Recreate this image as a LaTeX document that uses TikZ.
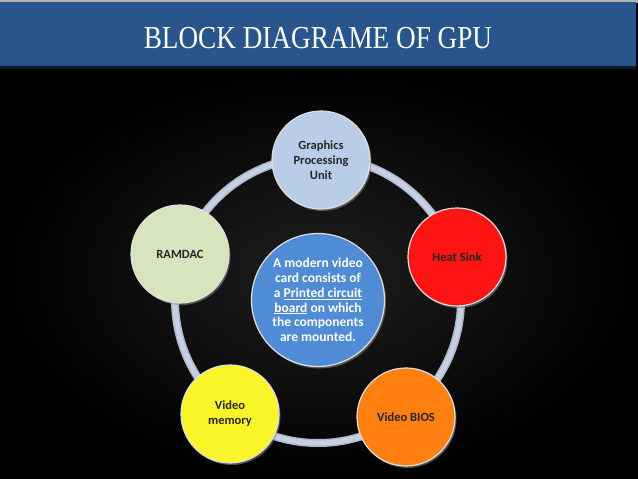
\documentclass[tikz,border=0pt]{standalone}
\usepackage{fontspec}
\setmainfont{Carlito}
\newfontfamily\titlefont[FakeStretch=0.85]{Liberation Serif}
\usetikzlibrary{shadows}
\definecolor{bandblue}{RGB}{40,86,140}
\definecolor{ringcol}{RGB}{196,208,228}
\definecolor{gpucol}{RGB}{185,205,232}
\definecolor{corecol}{RGB}{80,140,214}
\definecolor{ramcol}{RGB}{215,228,189}
\definecolor{heatcol}{RGB}{255,20,20}
\definecolor{memcol}{RGB}{250,245,40}
\definecolor{bioscol}{RGB}{255,128,16}

\begin{document}
\begin{tikzpicture}[x=1pt, y=-1pt,
  part/.style={circle, minimum size=98pt, inner sep=0pt, draw=white!75!gray,
    line width=1.2pt, align=center, text=black!85,
    font=\bfseries\fontsize{12.5}{15}\selectfont,
    drop shadow={opacity=0.6, shadow xshift=1.5pt, shadow yshift=-2pt}},
  core/.style={part, minimum size=133pt, text=white,
    font=\bfseries\fontsize{13.5}{14.7}\selectfont}]
\useasboundingbox (0,0) rectangle (638,479);
% background and title
\fill[black] (0,0) rectangle (638,479);
\shade[inner color=black!88!white, outer color=black] (0,68) rectangle (638,479);
\fill[gray!60] (0,0) rectangle (638,3);
\fill[bandblue] (0,2) rectangle (636,67);
\fill[black!70!bandblue] (0,66) rectangle (636,69);
\node[text=white, font=\titlefont\fontsize{32}{32}\selectfont] (title) at (318,38) {BLOCK DIAGRAME OF GPU};
% ring
\coordinate (mid) at (318,300);
\draw[ringcol!70!gray, line width=8pt] (mid) circle (143);
\draw[ringcol, line width=5pt] (mid) circle (143);
% parts
\node[core, fill=corecol] (board) at (mid) {A modern video\\card consists of\\a \underline{Printed circuit}\\\underline{board} on which\\the components\\are mounted.};
\node[part, fill=gpucol] (gpu) at (321,160) {Graphics\\Processing\\Unit};
\node[part, fill=heatcol] (heat) at (457,257) {Heat Sink};
\node[part, fill=bioscol] (bios) at (406,417) {Video BIOS};
\node[part, fill=memcol] (mem) at (230,414) {Video\\memory};
\node[part, fill=ramcol] (ram) at (180,254) {RAMDAC};
\end{tikzpicture}
\end{document}
